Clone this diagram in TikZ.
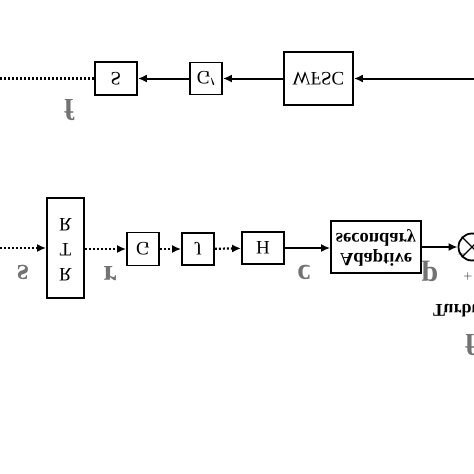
\documentclass[tikz,border=0pt]{standalone}
\usepackage{fontspec}
\setmainfont{Liberation Serif}
\usepackage{graphicx}
\usetikzlibrary{arrows.meta}
\newcommand{\flipv}[1]{\rotatebox[origin=c]{180}{\reflectbox{#1}}}

\begin{document}
\begin{tikzpicture}[>={Latex[length=9pt,width=8pt]},x=1pt,y=-1pt,
        blk/.style={draw,line width=1.8pt,inner sep=0pt,font=\fontsize{19}{22}\selectfont},
        sig/.style={line width=2pt},
        dots/.style={line width=2.2pt,dash pattern=on 2pt off 2pt},
        lab/.style={text=black!55,inner sep=0pt,font=\fontsize{30}{30}\selectfont\bfseries}]
        \useasboundingbox (0,0) rectangle (474,474);
        \begin{scope}
            % upper branch
            \node[blk,minimum width=69pt,minimum height=53pt] (wfsc) at (318.5,78.5) {\flipv{WFSC}};
            \node[blk,minimum width=32pt,minimum height=32pt] (gp) at (206,78.5) {\flipv{G$'$}};
            \node[blk,minimum width=42pt,minimum height=33pt] (sb) at (116,78.5) {\flipv{S}};
            \coordinate (win) at (474,78.5);
            \coordinate (fout) at (0,78.5);
            \draw[sig,->] (win)--(wfsc);
            \draw[sig,->] (wfsc)--(gp);
            \draw[sig,->] (gp)--(sb);
            \draw[dots] (sb)--(fout);
            \node[lab] (lf) at (69,110) {\flipv{f}};
        \end{scope}
        \begin{scope}
            % lower branch
            \node[blk,minimum width=37pt,minimum height=100pt] (rtr) at (65.5,248) {\flipv{\begin{tabular}{@{}c@{}}R\\[3pt]T\\[3pt]R\end{tabular}}};
            \node[blk,minimum width=32pt,minimum height=33pt] (g) at (143,249) {\flipv{G}};
            \node[blk,minimum width=32pt,minimum height=32pt] (j) at (198,249) {\flipv{J}};
            \node[blk,minimum width=42pt,minimum height=32pt] (h) at (263,248) {\flipv{H}};
            \node[blk,minimum width=90pt,minimum height=52pt,font=\fontsize{18.5}{20}\selectfont\bfseries] (asm) at (376,247) {\flipv{\begin{tabular}{@{}c@{}}Adaptive\\secondary\end{tabular}}};
            \node[draw,circle,line width=1.8pt,minimum size=27pt,inner sep=0pt] (sum) at (472,247) {};
            \draw[line width=1.2pt] (sum.north west)--(sum.south east) (sum.north east)--(sum.south west);
            \coordinate (sin) at (0,248);
            \draw[dots,->] (sin)--(rtr.west |- sin);
            \draw[dots,->] (rtr.east |- g)--(g);
            \draw[dots,->] (g)--(j);
            \draw[dots,->] (j)--(h);
            \draw[sig,->] (h)--(asm.west |- h);
            \draw[sig,->] (asm)--(sum);
            \node[font=\fontsize{13}{13}\selectfont\bfseries] (mn) at (462,254) {$-$};
            \node[font=\fontsize{13}{13}\selectfont\bfseries] (pl) at (468,276) {$+$};
            \node[lab] (ls) at (23,272) {\flipv{s}};
            \node[lab] (lr) at (110,274) {\flipv{r}};
            \node[lab] (lc) at (304,272) {\flipv{c}};
            \node[lab] (lp) at (430,271) {\flipv{p}};
            \node[anchor=west,inner sep=0pt,font=\fontsize{18}{18}\selectfont\bfseries] (turb) at (433,311) {\flipv{Turbulence}};
            \node[lab,anchor=west] (lt) at (465,345) {\flipv{f}};
        \end{scope}
    \end{tikzpicture}
\end{document}
